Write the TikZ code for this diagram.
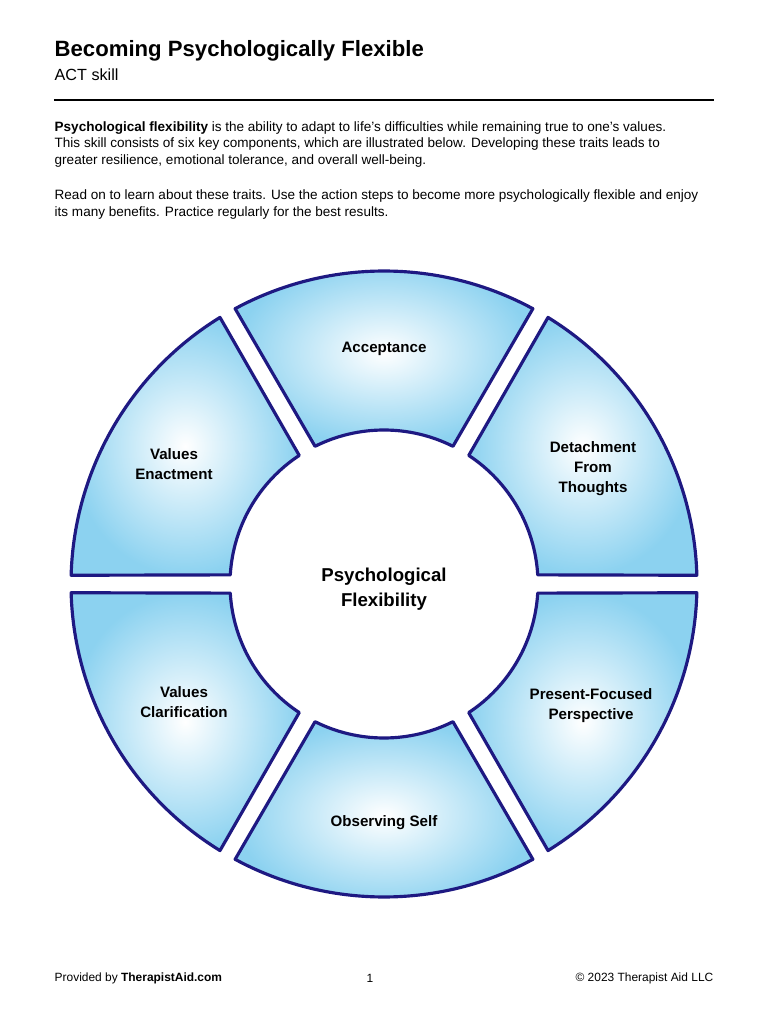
\documentclass[tikz,border=0pt]{standalone}
\usepackage{fontspec}
\setmainfont{Liberation Sans}
\usetikzlibrary{calc}
\definecolor{navy}{RGB}{30,25,130}
\definecolor{sky}{RGB}{140,210,240}
\tikzset{
  seg/.style={draw=navy, line width=0.9pt, line join=round, inner color=white, outer color=sky},
  lbl/.style={font=\fontsize{4.3}{5.7}\selectfont\bfseries, align=center},
  body/.style={anchor=west, font=\fontsize{3.85}{4.6}\selectfont, inner sep=0pt},
  foot/.style={font=\fontsize{3.4}{4}\selectfont, inner sep=0pt}
}
\begin{document}
\begin{tikzpicture}
\useasboundingbox (0,0) rectangle (7.68,10.24);
\node[anchor=west, inner sep=0pt, font=\fontsize{6.3}{7}\selectfont\bfseries] (title) at (0.54,9.73) {Becoming Psychologically Flexible};
\node[anchor=west, inner sep=0pt, font=\fontsize{4.6}{5.5}\selectfont] (sub) at (0.54,9.49) {ACT skill};
\draw[line width=0.6pt] (0.54,9.24) coordinate (l1) -- (7.14,9.24) coordinate (l2);
\node[body] (p1) at (0.54,8.96) {\textbf{Psychological flexibility} is the ability to adapt to life’s difficulties while remaining true to one’s values.};
\node[body] (p2) at (0.54,8.80) {This skill consists of six key components, which are illustrated below. Developing these traits leads to};
\node[body] (p3) at (0.54,8.63) {greater resilience, emotional tolerance, and overall well-being.};
\node[body] (p4) at (0.54,8.28) {Read on to learn about these traits. Use the action steps to become more psychologically flexible and enjoy};
\node[body] (p5) at (0.54,8.11) {its many benefits. Practice regularly for the best results.};

\coordinate (c) at (3.84,4.40);
\def\R{3.13}\def\r{1.54}\def\go{1.6}\def\gi{3.4}
\foreach \a in {0,60,...,300}{
  \pgfmathsetmacro{\b}{\a+60}
  \shadedraw[seg] ([shift={(\a+\go:\R)}]c) arc[start angle=\a+\go, end angle=\b-\go, radius=\R]
    -- ([shift={(\b-\gi:\r)}]c) arc[start angle=\b-\gi, end angle=\a+\gi, radius=\r] -- cycle;
}
\node[lbl] (acc) at (3.84,6.75) {Acceptance};
\node[lbl] (det) at (5.93,5.55) {Detachment\\From\\Thoughts};
\node[lbl] (pre) at (5.91,3.18) {Present-Focused\\Perspective};
\node[lbl] (obs) at (3.84,2.01) {Observing Self};
\node[lbl] (vc) at (1.84,3.22) {Values\\Clarification};
\node[lbl] (ve) at (1.74,5.60) {Values\\Enactment};
\node[font=\fontsize{5.3}{7}\selectfont\bfseries, align=center] (pf) at (3.84,4.35) {Psychological\\Flexibility};

\node[foot, anchor=west] (f1) at (0.54,0.46) {Provided by \textbf{TherapistAid.com}};
\node[foot] (f2) at (3.70,0.46) {1};
\node[foot, anchor=east] (f3) at (7.14,0.46) {© 2023 Therapist Aid LLC};
\end{tikzpicture}
\end{document}
